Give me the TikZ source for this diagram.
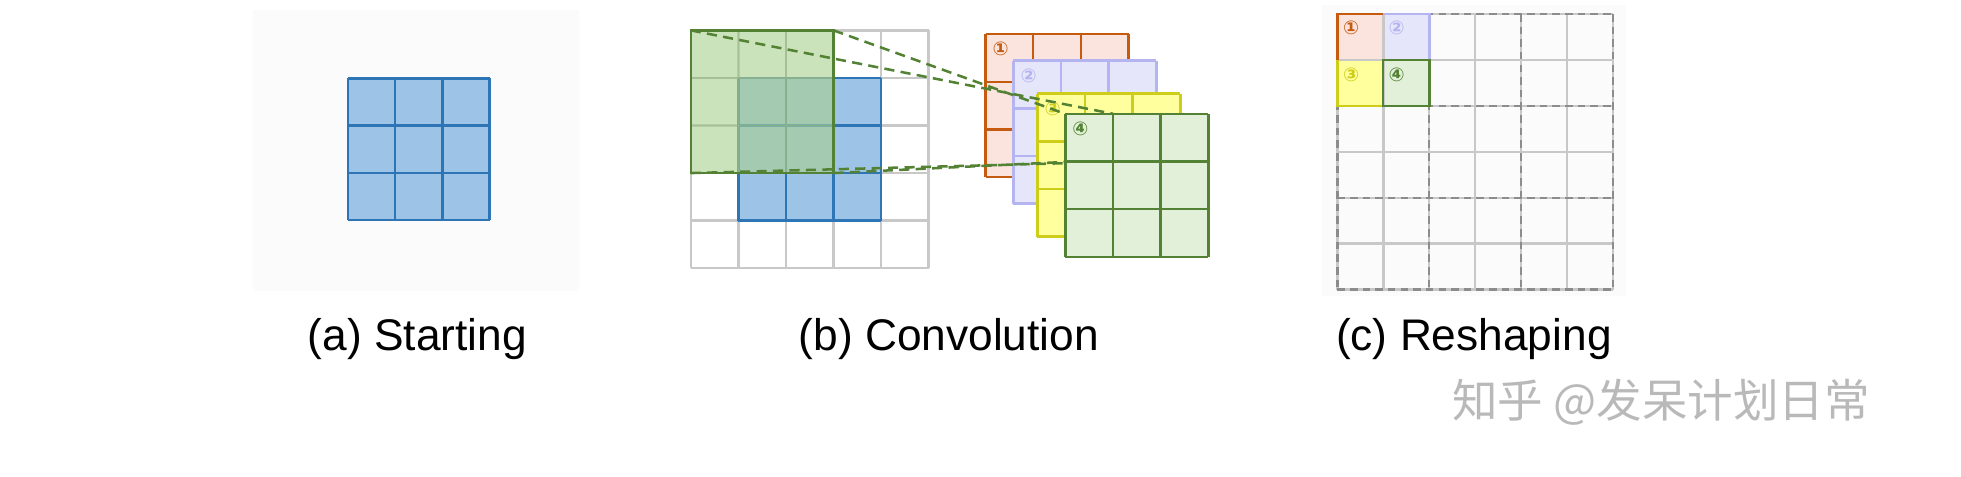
\documentclass[tikz,border=0pt]{standalone}
\usepackage{fontspec}
\setmainfont{Liberation Sans}
\newfontfamily\cjk{Noto Sans CJK SC}
\newfontfamily\djsans{DejaVu Sans}
\begin{document}
\begin{tikzpicture}[x=1pt,y=-1pt,
  lab/.style={font=\fontsize{35}{40}\selectfont, anchor=center},
  num/.style={font=\djsans\fontsize{15}{16}\selectfont\bfseries, anchor=center}]
\definecolor{bst}{HTML}{2E75B6}\definecolor{bfi}{HTML}{9DC3E6}
\definecolor{gst}{HTML}{548235}\definecolor{gfi}{HTML}{A9D18E}\definecolor{gfl}{HTML}{E2F0D9}
\definecolor{ost}{HTML}{C55A11}\definecolor{ofi}{HTML}{FCE4DE}
\definecolor{pst}{HTML}{B4B4F0}\definecolor{pfi}{HTML}{E6E6FA}
\definecolor{yst}{HTML}{CDCD1A}\definecolor{yfi}{HTML}{FFFF9E}
\definecolor{lg}{HTML}{C8C8C8}\definecolor{dg}{HTML}{8C8C8C}
\useasboundingbox[fill=white] (0,0) rectangle (1550,377);
% backgrounds
\fill[gray!3] (200,8) rectangle (458,230);
\fill[gray!3] (1045,4) rectangle (1285,234);
% (a)
\newcommand{\cellgrid}[6]{% x y cell n m style
  \foreach \i in {0,...,#5}{\draw[#6] (#1+\i*#3,#2) -- (#1+\i*#3,#2+#4*#3);}
  \foreach \j in {0,...,#4}{\draw[#6] (#1,#2+\j*#3) -- (#1+#5*#3,#2+\j*#3);}}
\fill[bfi] (275,62) rectangle (387,174);
\cellgrid{275}{62}{37.33}{3}{3}{bst,line width=2pt}
\node[lab] (la) at (330,268) {(a) Starting};
% (b)
\cellgrid{546}{24}{37.6}{5}{5}{lg,line width=2pt}
\fill[bfi] (583.6,61.6) rectangle (696.4,174.4);
\cellgrid{583.6}{61.6}{37.6}{3}{3}{bst,line width=2pt}
\fill[gfi,opacity=0.6] (546,24) rectangle (658.8,136.8);
\cellgrid{546}{24}{37.6}{3}{3}{gst!60,line width=1.2pt,opacity=0.5}
\draw[gst,line width=2pt] (546,24) rectangle (658.8,136.8);
\coordinate (w1) at (546,24);\coordinate (w2) at (658.8,24);
\coordinate (w3) at (546,136.8);\coordinate (w4) at (658.8,136.8);
% maps
\fill[ofi] (779,27) rectangle (892,140);
\cellgrid{779}{27}{37.67}{3}{3}{ost,line width=2pt}
\node[num,text=ost] at (791,39) {①};
\fill[pfi] (801,48) rectangle (914,161);
\cellgrid{801}{48}{37.67}{3}{3}{pst,line width=2pt}
\node[num,text=pst] at (813,60) {②};
\fill[yfi] (820,74) rectangle (933,187);
\cellgrid{820}{74}{37.67}{3}{3}{yst,line width=2pt}
\node[num,text=yst] at (832,86) {③};
\coordinate (m1) at (842,90);\coordinate (m2) at (880,90);
\coordinate (m3) at (842,128);\coordinate (m4) at (880,128);
\draw[gst,line width=2pt,dashed,dash pattern=on 8pt off 5pt] (w1) -- (m2) (w2) -- (m1) (w3) -- (m4) (w4) -- (m3);
\fill[gfl] (842,90) rectangle (955,203);
\cellgrid{842}{90}{37.67}{3}{3}{gst,line width=2pt}
\node[num,text=gst] at (854,102) {④};
\node[lab] (lb) at (750,268) {(b) Convolution};
% (c)
\fill[ofi] (1057,11) rectangle (1093.3,47.3);
\fill[pfi] (1093.3,11) rectangle (1129.7,47.3);
\fill[yfi] (1057,47.3) rectangle (1093.3,83.7);
\fill[gfl] (1093.3,47.3) rectangle (1129.7,83.7);
\cellgrid{1057}{11}{36.33}{6}{6}{lg,line width=2pt}
\cellgrid{1057}{11}{72.67}{3}{3}{dg,line width=2pt,dashed,dash pattern=on 6pt off 4pt}
\draw[ost,line width=2pt] (1057,47.3) -- (1057,11) -- (1093.3,11);
\draw[pst,line width=2pt] (1093.3,11) -- (1129.7,11) -- (1129.7,47.3);
\draw[yst,line width=2pt] (1057,47.3) -- (1057,83.7) -- (1093.3,83.7);
\draw[gst,line width=2pt] (1093.3,47.3) rectangle (1129.7,83.7);
\node[num,text=ost] at (1068,22) {①};
\node[num,text=pst] at (1104,22) {②};
\node[num,text=yst] at (1068,59) {③};
\node[num,text=gst] at (1104,59) {④};
\node[lab] (lc) at (1165,268) {(c) Reshaping};
\node[font=\cjk\fontsize{36}{40}\selectfont, text=gray!55, anchor=center] (wm) at (1313,318) {知乎 @发呆计划日常};
\end{tikzpicture}
\end{document}
